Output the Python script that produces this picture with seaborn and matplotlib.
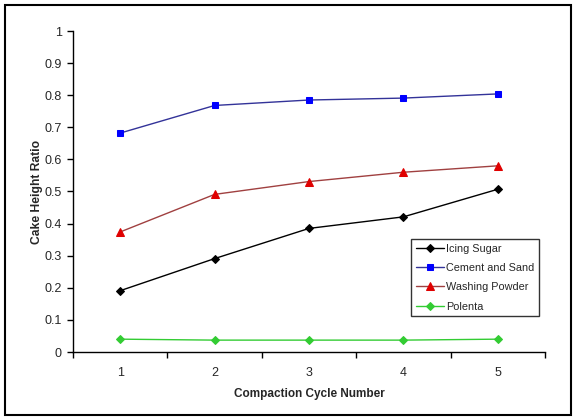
import matplotlib
matplotlib.use("Agg")
import matplotlib.pyplot as plt
import matplotlib.patches as mpatches
import seaborn as sns
import numpy as np
import pandas as pd

cycles = [1, 2, 3, 4, 5]
icing_sugar = [0.191, 0.291, 0.385, 0.421, 0.507]
cement_sand = [0.682, 0.768, 0.785, 0.791, 0.804]
washing_powder = [0.374, 0.491, 0.531, 0.560, 0.580]
polenta = [0.040, 0.037, 0.037, 0.037, 0.040]
series_names = ["Icing Sugar", "Cement and Sand", "Washing Powder", "Polenta"]
y_ticks = [0, 0.1, 0.2, 0.3, 0.4, 0.5, 0.6, 0.7, 0.8, 0.9, 1]
y_tick_labels = ["0", "0.1", "0.2", "0.3", "0.4", "0.5", "0.6", "0.7", "0.8", "0.9", "1"]

sns.set_style("white")
plt.rcParams['font.family'] = ['Liberation Sans', 'DejaVu Sans']

fig = plt.figure(figsize=(5.76, 4.19), dpi=100)
ax = fig.add_axes([73/576, 67/419, (545-73)/576, (352-31)/419])

styles = [
    (icing_sugar, "black", "black", "D", 4.5),
    (cement_sand, "#333399", "#0000FF", "s", 5),
    (washing_powder, "#A04040", "#E00000", "^", 6),
    (polenta, "#33CC33", "#33CC33", "D", 4.5),
]
for name, (vals, lc, mc, mk, ms) in zip(series_names, styles):
    df = pd.DataFrame({"cycle": cycles, "value": vals})
    sns.lineplot(data=df, x="cycle", y="value", ax=ax, color=lc, linewidth=1.0,
                 marker=mk, markersize=ms, markerfacecolor=mc, markeredgecolor=mc,
                 label=name)

ax.set_xlim(0.5, 5.5)
ax.set_ylim(0, 1)
ax.set_yticks(y_ticks)
ax.set_yticklabels(y_tick_labels, fontsize=9)
ax.set_xticks(cycles)
ax.set_xticklabels([str(c) for c in cycles], fontsize=9)
ax.set_xticks(np.arange(0.5, 6.0, 1.0), minor=True)
ax.tick_params(axis="x", which="major", bottom=True, length=0, pad=11)
ax.tick_params(axis="x", which="minor", bottom=True, length=4, width=1, direction="out", color="black")
ax.tick_params(axis="y", which="major", left=True, length=4, width=1, direction="out", color="black", pad=4)

for s in ["top", "right"]:
    ax.spines[s].set_visible(False)
for s in ["left", "bottom"]:
    ax.spines[s].set_color("black")
    ax.spines[s].set_linewidth(1.0)

ax.set_xlabel("Compaction Cycle Number", fontsize=8.5, fontweight="bold", labelpad=6)
ax.set_ylabel("Cake Height Ratio", fontsize=8.7, fontweight="bold", labelpad=8)
ax.yaxis.set_label_coords(-(73-43)/472, 0.5)

leg = ax.legend(loc="upper left", bbox_to_anchor=((411-73)/472, (352-239)/321),
                fontsize=7.8, frameon=True, fancybox=False, handlelength=2.6,
                borderpad=0.45, labelspacing=0.85, handletextpad=0.2,
                borderaxespad=0)
leg.get_frame().set_edgecolor("black")
leg.get_frame().set_linewidth(1.0)

rect = mpatches.Rectangle((5/576, 4/419), 566/576, 410/419, transform=fig.transFigure,
                          fill=False, edgecolor="black", linewidth=1.5)
fig.patches.append(rect)

fig.savefig("out.png", dpi=100)
